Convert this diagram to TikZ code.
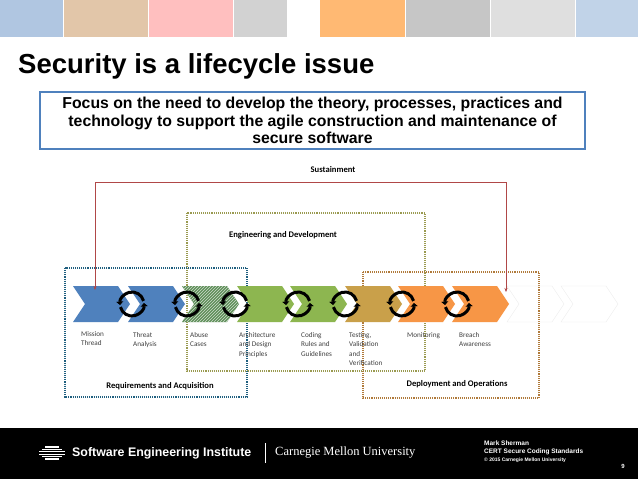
\documentclass[tikz,border=0pt]{standalone}
\usepackage{fontspec}
\setmainfont{Liberation Sans}
\newfontfamily\carlf{Carlito}
\newfontfamily\serifx{Liberation Serif}
\usetikzlibrary{arrows.meta,patterns}
\definecolor{cblue}{HTML}{4F81BD}
\definecolor{cgreen}{HTML}{8DB650}
\definecolor{chatch}{HTML}{5F8F5A}
\definecolor{ctan}{HTML}{C9A04A}
\definecolor{corange}{HTML}{F79646}
\definecolor{cred}{HTML}{B04848}
\definecolor{cteal}{HTML}{1F5F7F}
\definecolor{colive}{HTML}{9A9A50}
\definecolor{cdorange}{HTML}{B07A3A}
\begin{document}
\begin{tikzpicture}[x=1pt,y=-1pt,
  lbl/.style={font=\carlf\fontsize{7.2}{9.6}\selectfont,text=black!75,align=left,anchor=north west,inner sep=0pt},
  grp/.style={font=\carlf\bfseries\fontsize{8.6}{10}\selectfont,inner sep=0pt},
  dbox/.style={densely dotted,line width=1.1pt},
  cyc/.style={line width=3pt,-{Triangle[length=3.5pt,width=7pt]}}]
\useasboundingbox (0,0) rectangle (638,479);
\fill[white] (0,0) rectangle (638,479);
% banner
\foreach \a/\b/\c in {0/63/cblue!45,64/148/brown!45,149/233/red!25,234/287/gray!35,320/405/orange!55,406/490/gray!45,491/575/gray!25,576/638/cblue!35}
  \fill[\c] (\a,0) rectangle (\b,37);
% title
\node[anchor=base west,inner sep=0pt,font=\bfseries\fontsize{27.5}{30}\selectfont] (title) at (18,73) {Security is a lifecycle issue};
\node[draw=cblue,line width=1.5pt,minimum width=545pt,minimum height=57pt,inner sep=0pt,align=center,
  font=\bfseries\fontsize{15.8}{17.5}\selectfont] (focus) at (312.5,120.5)
  {Focus on the need to develop the theory, processes, practices and\\technology to support the agile construction and maintenance of\\secure software};
% groups
\draw[dbox,colive] (187,213) rectangle (425,371);
\node[grp] (eng) at (283,235) {Engineering and Development};
\draw[dbox,cteal] (65,268) rectangle (247,397);
\node[grp] (req) at (160,386) {Requirements and Acquisition};
\draw[dbox,cdorange] (363,272) rectangle (539,398);
\node[grp] (dep) at (457,384) {Deployment and Operations};
% chevrons
\foreach \x/\c [count=\i] in {73/cblue,128/cblue,182/chatch,237/cgreen,290/cgreen,345/ctan,398/corange,452/corange}{
  \fill[\c] (\x,286) -- (\x+45,286) -- (\x+57,304) -- (\x+45,322) -- (\x,322) -- (\x+12,304) -- cycle;
  \coordinate (ch\i) at (\x,304);
}
\foreach \x in {507,561}
  \draw[black!8] (\x,286) -- (\x+45,286) -- (\x+57,304) -- (\x+45,322) -- (\x,322) -- (\x+12,304) -- cycle;
\fill[pattern=north east lines,pattern color=white!70!chatch] (182,286) -- (227,286) -- (239,304) -- (227,322) -- (182,322) -- (194,304) -- cycle;
% cycle arrows
\foreach \x in {132,187,235,298,345,402,457}{
  \draw[cyc] (\x,304) ++(-15:12) arc[start angle=-15,end angle=-185,radius=12];
  \draw[cyc] (\x,304) ++(165:12) arc[start angle=165,end angle=-5,radius=12];
}
% labels
\node[lbl] (l1) at (81,331) {Mission\\Thread};
\node[lbl] (l2) at (133,332) {Threat\\Analysis};
\node[lbl] (l3) at (190,332) {Abuse\\Cases};
\node[lbl] (l4) at (239,332) {Architecture\\and Design\\Principles};
\node[lbl] (l5) at (301,332) {Coding\\Rules and\\Guidelines};
\node[lbl] (l6) at (349,332) {Testing,\\Validation\\and\\Verification};
\node[lbl] (l7) at (407,332) {Monitoring};
\node[lbl] (l8) at (459,332) {Breach\\Awareness};
% sustainment
\node[grp] (sus) at (333,170) {Sustainment};
\coordinate (sl) at (95,182); \coordinate (sr) at (506,182);
\coordinate (sle) at (95,290); \coordinate (sre) at (506,292);
\draw[cred] (sl) -- (sr);
\draw[cred,-{Stealth[length=4pt]}] (sl) -- (sle);
\draw[cred,-{Stealth[length=4pt]}] (sr) -- (sre);
% footer
\fill[black] (0,428) rectangle (638,479);
\node[anchor=west,text=white,font=\bfseries\fontsize{12.4}{14}\selectfont,inner sep=0pt] (sei) at (72,453) {Software Engineering Institute};
\foreach \dy/\w in {-6/6,-3.6/9,-1.2/12,1.2/12,3.6/9,6/6}
  \draw[white,line width=1.3pt] (51-\w,453+\dy) -- (53+\w,453+\dy);
\draw[white] (265,443) -- (265,463);
\node[anchor=west,text=white,font=\serifx\fontsize{12.5}{14}\selectfont,inner sep=0pt] (cmu) at (275,453) {Carnegie Mellon University};
\node[anchor=north west,text=white,align=left,inner sep=0pt,font=\bfseries\fontsize{6.5}{8}\selectfont] (ms) at (484,441)
  {Mark Sherman\\CERT Secure Coding Standards\\{\fontsize{5}{6}\selectfont \textcopyright{} 2015 Carnegie Mellon University}};
\node[text=white,font=\bfseries\fontsize{6}{7}\selectfont,inner sep=0pt] (pg) at (623,466) {9};
\end{tikzpicture}
\end{document}
